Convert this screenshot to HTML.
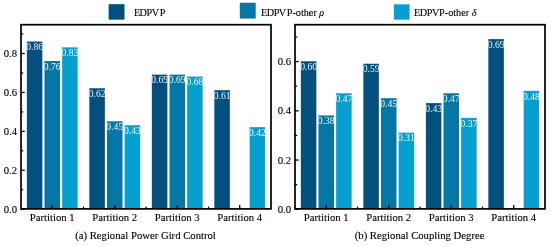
<!DOCTYPE html>
<html><head><meta charset="utf-8"><title>chart</title>
<style>
html,body{margin:0;padding:0;background:#fff;}
body{width:550px;height:246px;overflow:hidden;}
svg{display:block;}
svg text{font-family:"Liberation Serif","DejaVu Serif",serif;fill:#000;stroke:#000;stroke-width:0.12px;}
</style></head><body>
<svg width="550" height="246" viewBox="0 0 550 246">
<rect width="550" height="246" fill="#fff"/>

<rect x="108.6" y="4.15" width="15.9" height="15.5" fill="#03507f"/>
<text x="133.9" y="15.7" font-size="10.2"><tspan letter-spacing="-0.5">EDPV</tspan><tspan dx="1.2">P</tspan></text>
<rect x="239.8" y="2.75" width="15.9" height="15.8" fill="#0477a6"/>
<text x="261.1" y="15.7" font-size="10.2"><tspan letter-spacing="-0.5">EDPV</tspan><tspan dx="1.1">P-other </tspan><tspan font-style="italic">ρ</tspan></text>
<rect x="393.85" y="4.3" width="15.7" height="15.35" fill="#05a0d0"/>
<text x="414.1" y="15.6" font-size="10.2"><tspan letter-spacing="-0.45">EDPV</tspan><tspan dx="0.2">P-other </tspan><tspan font-style="italic">δ</tspan></text>

<rect x="26.85" y="41.54" width="15.5" height="167.36" fill="#03507f"/>
<rect x="44.50" y="61.00" width="15.5" height="147.90" fill="#0477a6"/>
<rect x="62.15" y="47.38" width="15.5" height="161.52" fill="#05a0d0"/>
<rect x="89.35" y="88.25" width="15.5" height="120.65" fill="#03507f"/>
<rect x="107.00" y="121.33" width="15.5" height="87.57" fill="#0477a6"/>
<rect x="124.65" y="125.22" width="15.5" height="83.68" fill="#05a0d0"/>
<rect x="151.85" y="74.63" width="15.5" height="134.27" fill="#03507f"/>
<rect x="169.50" y="74.63" width="15.5" height="134.27" fill="#0477a6"/>
<rect x="187.15" y="76.57" width="15.5" height="132.33" fill="#05a0d0"/>
<rect x="214.35" y="90.19" width="15.5" height="118.71" fill="#03507f"/>
<rect x="249.65" y="127.17" width="15.5" height="81.73" fill="#05a0d0"/>
<svg x="26.85" y="41.54" width="15.5" height="14" overflow="hidden"><text x="7.75" y="8.7" font-size="9.65" style="fill:#fff;fill-opacity:0.93;stroke:none" text-anchor="middle">0.86</text></svg>
<svg x="44.50" y="61.00" width="15.5" height="14" overflow="hidden"><text x="7.75" y="8.7" font-size="9.65" style="fill:#fff;fill-opacity:0.93;stroke:none" text-anchor="middle">0.76</text></svg>
<svg x="62.15" y="47.38" width="15.5" height="14" overflow="hidden"><text x="7.75" y="8.7" font-size="9.65" style="fill:#fff;fill-opacity:0.93;stroke:none" text-anchor="middle">0.83</text></svg>
<svg x="89.35" y="88.25" width="15.5" height="14" overflow="hidden"><text x="7.75" y="8.7" font-size="9.65" style="fill:#fff;fill-opacity:0.93;stroke:none" text-anchor="middle">0.62</text></svg>
<svg x="107.00" y="121.33" width="15.5" height="14" overflow="hidden"><text x="7.75" y="8.7" font-size="9.65" style="fill:#fff;fill-opacity:0.93;stroke:none" text-anchor="middle">0.45</text></svg>
<svg x="124.65" y="125.22" width="15.5" height="14" overflow="hidden"><text x="7.75" y="8.7" font-size="9.65" style="fill:#fff;fill-opacity:0.93;stroke:none" text-anchor="middle">0.43</text></svg>
<svg x="151.85" y="74.63" width="15.5" height="14" overflow="hidden"><text x="7.75" y="8.7" font-size="9.65" style="fill:#fff;fill-opacity:0.93;stroke:none" text-anchor="middle">0.69</text></svg>
<svg x="169.50" y="74.63" width="15.5" height="14" overflow="hidden"><text x="7.75" y="8.7" font-size="9.65" style="fill:#fff;fill-opacity:0.93;stroke:none" text-anchor="middle">0.69</text></svg>
<svg x="187.15" y="76.57" width="15.5" height="14" overflow="hidden"><text x="7.75" y="8.7" font-size="9.65" style="fill:#fff;fill-opacity:0.93;stroke:none" text-anchor="middle">0.68</text></svg>
<svg x="214.35" y="90.19" width="15.5" height="14" overflow="hidden"><text x="7.75" y="8.7" font-size="9.65" style="fill:#fff;fill-opacity:0.93;stroke:none" text-anchor="middle">0.61</text></svg>
<svg x="249.65" y="127.17" width="15.5" height="14" overflow="hidden"><text x="7.75" y="8.7" font-size="9.65" style="fill:#fff;fill-opacity:0.93;stroke:none" text-anchor="middle">0.42</text></svg>
<line x1="21.0" x2="24.7" y1="209.20" y2="209.20" stroke="#000" stroke-width="1.25"/>
<text x="17.00" y="212.70" font-size="10.7" text-anchor="end">0.0</text>
<line x1="21.0" x2="24.7" y1="170.28" y2="170.28" stroke="#000" stroke-width="1.25"/>
<text x="17.00" y="173.78" font-size="10.7" text-anchor="end">0.2</text>
<line x1="21.0" x2="24.7" y1="131.36" y2="131.36" stroke="#000" stroke-width="1.25"/>
<text x="17.00" y="134.86" font-size="10.7" text-anchor="end">0.4</text>
<line x1="21.0" x2="24.7" y1="92.44" y2="92.44" stroke="#000" stroke-width="1.25"/>
<text x="17.00" y="95.94" font-size="10.7" text-anchor="end">0.6</text>
<line x1="21.0" x2="24.7" y1="53.52" y2="53.52" stroke="#000" stroke-width="1.25"/>
<text x="17.00" y="57.02" font-size="10.7" text-anchor="end">0.8</text>
<line x1="21.0" x2="23.2" y1="189.74" y2="189.74" stroke="#000" stroke-width="1.25"/>
<line x1="21.0" x2="23.2" y1="150.82" y2="150.82" stroke="#000" stroke-width="1.25"/>
<line x1="21.0" x2="23.2" y1="111.90" y2="111.90" stroke="#000" stroke-width="1.25"/>
<line x1="21.0" x2="23.2" y1="72.98" y2="72.98" stroke="#000" stroke-width="1.25"/>
<line x1="21.0" x2="23.2" y1="34.06" y2="34.06" stroke="#000" stroke-width="1.25"/>
<line x1="52.25" x2="52.25" y1="208.9" y2="205.1" stroke="#000" stroke-width="1.25"/>
<text x="52.25" y="221.3" font-size="10.7" text-anchor="middle">Partition 1</text>
<line x1="83.50" x2="83.50" y1="208.9" y2="206.6" stroke="#000" stroke-width="1.25"/>
<line x1="114.75" x2="114.75" y1="208.9" y2="205.1" stroke="#000" stroke-width="1.25"/>
<text x="114.75" y="221.3" font-size="10.7" text-anchor="middle">Partition 2</text>
<line x1="146.00" x2="146.00" y1="208.9" y2="206.6" stroke="#000" stroke-width="1.25"/>
<line x1="177.25" x2="177.25" y1="208.9" y2="205.1" stroke="#000" stroke-width="1.25"/>
<text x="177.25" y="221.3" font-size="10.7" text-anchor="middle">Partition 3</text>
<line x1="208.50" x2="208.50" y1="208.9" y2="206.6" stroke="#000" stroke-width="1.25"/>
<line x1="239.75" x2="239.75" y1="208.9" y2="205.1" stroke="#000" stroke-width="1.25"/>
<text x="239.75" y="221.3" font-size="10.7" text-anchor="middle">Partition 4</text>
<rect x="21.0" y="24.7" width="250.00" height="184.20" fill="none" stroke="#000" stroke-width="1.7"/>
<text x="145.5" y="239.1" font-size="10.7" text-anchor="middle">(a) Regional Power Gird Control</text>
<rect x="300.85" y="61.28" width="15.5" height="147.62" fill="#03507f"/>
<rect x="318.50" y="115.44" width="15.5" height="93.46" fill="#0477a6"/>
<rect x="336.15" y="93.29" width="15.5" height="115.61" fill="#05a0d0"/>
<rect x="363.35" y="63.74" width="15.5" height="145.16" fill="#03507f"/>
<rect x="381.00" y="98.21" width="15.5" height="110.69" fill="#0477a6"/>
<rect x="398.65" y="132.68" width="15.5" height="76.22" fill="#05a0d0"/>
<rect x="425.85" y="103.13" width="15.5" height="105.77" fill="#03507f"/>
<rect x="443.50" y="93.29" width="15.5" height="115.61" fill="#0477a6"/>
<rect x="461.15" y="117.91" width="15.5" height="90.99" fill="#05a0d0"/>
<rect x="488.35" y="39.12" width="15.5" height="169.78" fill="#03507f"/>
<rect x="523.65" y="90.82" width="15.5" height="118.08" fill="#05a0d0"/>
<svg x="300.85" y="61.28" width="15.5" height="14" overflow="hidden"><text x="7.75" y="8.7" font-size="9.65" style="fill:#fff;fill-opacity:0.93;stroke:none" text-anchor="middle">0.60</text></svg>
<svg x="318.50" y="115.44" width="15.5" height="14" overflow="hidden"><text x="7.75" y="8.7" font-size="9.65" style="fill:#fff;fill-opacity:0.93;stroke:none" text-anchor="middle">0.38</text></svg>
<svg x="336.15" y="93.29" width="15.5" height="14" overflow="hidden"><text x="7.75" y="8.7" font-size="9.65" style="fill:#fff;fill-opacity:0.93;stroke:none" text-anchor="middle">0.47</text></svg>
<svg x="363.35" y="63.74" width="15.5" height="14" overflow="hidden"><text x="7.75" y="8.7" font-size="9.65" style="fill:#fff;fill-opacity:0.93;stroke:none" text-anchor="middle">0.59</text></svg>
<svg x="381.00" y="98.21" width="15.5" height="14" overflow="hidden"><text x="7.75" y="8.7" font-size="9.65" style="fill:#fff;fill-opacity:0.93;stroke:none" text-anchor="middle">0.45</text></svg>
<svg x="398.65" y="132.68" width="15.5" height="14" overflow="hidden"><text x="7.75" y="8.7" font-size="9.65" style="fill:#fff;fill-opacity:0.93;stroke:none" text-anchor="middle">0.31</text></svg>
<svg x="425.85" y="103.13" width="15.5" height="14" overflow="hidden"><text x="7.75" y="8.7" font-size="9.65" style="fill:#fff;fill-opacity:0.93;stroke:none" text-anchor="middle">0.43</text></svg>
<svg x="443.50" y="93.29" width="15.5" height="14" overflow="hidden"><text x="7.75" y="8.7" font-size="9.65" style="fill:#fff;fill-opacity:0.93;stroke:none" text-anchor="middle">0.47</text></svg>
<svg x="461.15" y="117.91" width="15.5" height="14" overflow="hidden"><text x="7.75" y="8.7" font-size="9.65" style="fill:#fff;fill-opacity:0.93;stroke:none" text-anchor="middle">0.37</text></svg>
<svg x="488.35" y="39.12" width="15.5" height="14" overflow="hidden"><text x="7.75" y="8.7" font-size="9.65" style="fill:#fff;fill-opacity:0.93;stroke:none" text-anchor="middle">0.69</text></svg>
<svg x="523.65" y="90.82" width="15.5" height="14" overflow="hidden"><text x="7.75" y="8.7" font-size="9.65" style="fill:#fff;fill-opacity:0.93;stroke:none" text-anchor="middle">0.48</text></svg>
<line x1="295.0" x2="298.7" y1="209.30" y2="209.30" stroke="#000" stroke-width="1.25"/>
<text x="291.00" y="212.80" font-size="10.7" text-anchor="end">0.0</text>
<line x1="295.0" x2="298.7" y1="160.06" y2="160.06" stroke="#000" stroke-width="1.25"/>
<text x="291.00" y="163.56" font-size="10.7" text-anchor="end">0.2</text>
<line x1="295.0" x2="298.7" y1="110.82" y2="110.82" stroke="#000" stroke-width="1.25"/>
<text x="291.00" y="114.32" font-size="10.7" text-anchor="end">0.4</text>
<line x1="295.0" x2="298.7" y1="61.58" y2="61.58" stroke="#000" stroke-width="1.25"/>
<text x="291.00" y="65.08" font-size="10.7" text-anchor="end">0.6</text>
<line x1="295.0" x2="297.2" y1="184.68" y2="184.68" stroke="#000" stroke-width="1.25"/>
<line x1="295.0" x2="297.2" y1="135.44" y2="135.44" stroke="#000" stroke-width="1.25"/>
<line x1="295.0" x2="297.2" y1="86.20" y2="86.20" stroke="#000" stroke-width="1.25"/>
<line x1="295.0" x2="297.2" y1="36.96" y2="36.96" stroke="#000" stroke-width="1.25"/>
<line x1="326.25" x2="326.25" y1="208.9" y2="205.1" stroke="#000" stroke-width="1.25"/>
<text x="326.25" y="221.3" font-size="10.7" text-anchor="middle">Partition 1</text>
<line x1="357.50" x2="357.50" y1="208.9" y2="206.6" stroke="#000" stroke-width="1.25"/>
<line x1="388.75" x2="388.75" y1="208.9" y2="205.1" stroke="#000" stroke-width="1.25"/>
<text x="388.75" y="221.3" font-size="10.7" text-anchor="middle">Partition 2</text>
<line x1="420.00" x2="420.00" y1="208.9" y2="206.6" stroke="#000" stroke-width="1.25"/>
<line x1="451.25" x2="451.25" y1="208.9" y2="205.1" stroke="#000" stroke-width="1.25"/>
<text x="451.25" y="221.3" font-size="10.7" text-anchor="middle">Partition 3</text>
<line x1="482.50" x2="482.50" y1="208.9" y2="206.6" stroke="#000" stroke-width="1.25"/>
<line x1="513.75" x2="513.75" y1="208.9" y2="205.1" stroke="#000" stroke-width="1.25"/>
<text x="513.75" y="221.3" font-size="10.7" text-anchor="middle">Partition 4</text>
<rect x="295.0" y="24.7" width="250.00" height="184.20" fill="none" stroke="#000" stroke-width="1.7"/>
<text x="419.6" y="239.1" font-size="10.7" text-anchor="middle">(b) Regional Coupling Degree</text>
</svg>
</body></html>
